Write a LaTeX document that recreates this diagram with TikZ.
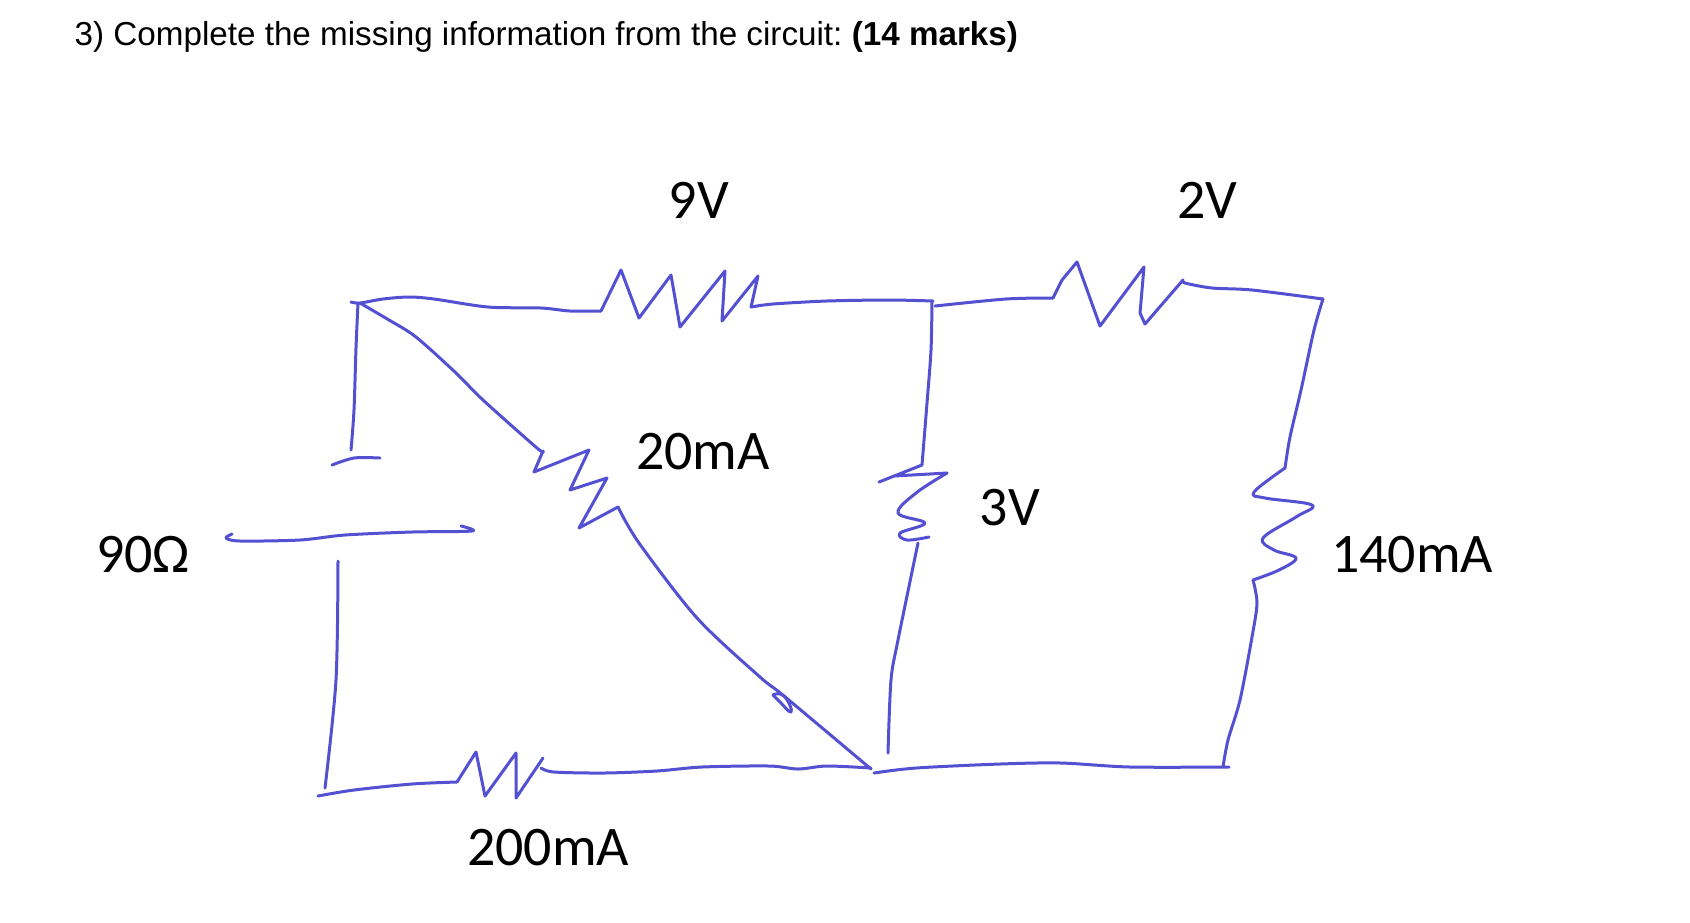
\documentclass[tikz,border=0pt]{standalone}
\usepackage{fontspec}
\setmainfont{Liberation Sans}
\newfontfamily\valuefont{Carlito}
\definecolor{penblue}{HTML}{5450D2}
\tikzset{
	wire/.style={line width=0.3mm, color=penblue, line join=round, line cap=round},
	value/.style={font=\valuefont\fontsize{15.9}{18}\selectfont, text=black, inner sep=0pt}
}

\begin{document}
\begin{tikzpicture}[x=0.1mm, y=-0.1mm]
			%%%%% TEXT %%%%%
			\useasboundingbox (0, 0) rectangle (1690, 922);
			\node[anchor=west, inner sep=0pt, font=\fontsize{9.45}{11}\selectfont] (question) at (74, 37) {3) Complete the missing information from the circuit:\hspace{-0.09em} \textbf{(14 marks)}};
			
			\node[value] (upperdrop) at (699, 200) {9V};
			\node[value] (rightdrop) at (1207, 200) {2V};
			\node[value] (diagcurrent) at (703, 452) {20mA};
			\node[value] (middrop) at (1010, 508) {3V};
			\node[value] (rightcurrent) at (1412, 555) {140mA};
			\node[value] (lowcurrent) at (548, 848) {200mA};
			\node[value] (lowresist) at (143, 555) {90Ω};
			
			%%%%% TOP WIRES %%%%%
			\draw[wire] plot[smooth, tension=0.5] coordinates {(351, 302) (360, 303) (383, 299) (409, 297) (434, 299) (488, 307) (541, 308) (570, 311) (601, 311)};
			\draw[wire] (601, 311) -- (621, 270) -- (639, 318) -- (671, 275) -- (680, 327) -- (725, 271) -- (722, 321) -- (758, 276) -- (751, 307);
			\draw[wire] plot[smooth, tension=0.5] coordinates {(751, 307) (773, 304) (827, 301) (889, 300) (933, 301)};
			\draw[wire] plot[smooth, tension=0.5] coordinates {(935, 306) (1006, 299) (1053, 298)};
			\draw[wire] (1053, 298) -- (1062, 280) -- (1077, 262) -- (1100, 326) -- (1144, 267) -- (1140, 313) -- (1145, 324) -- (1183, 280);
			\draw[wire] plot[smooth, tension=0.5] coordinates {(1183, 280) (1185, 283) (1212, 288) (1252, 290) (1323, 299)};
			
			%%%%% BATTERY %%%%%
			\draw[wire] plot[smooth, tension=0.5] coordinates {(358, 303) (356, 348) (354, 410) (351, 450)};
			\draw[wire] plot[smooth, tension=0.5] coordinates {(332, 465) (354, 458) (380, 458)};
			\draw[wire] plot[smooth, tension=0.5] coordinates {(232, 534) (226, 538) (240, 541) (300, 540) (345, 535) (412, 532) (472, 531) (461, 526)};
			\draw[wire] plot[smooth, tension=0.5] coordinates {(338, 561) (336, 680) (325, 788)};
			
			%%%%% DIAGONAL %%%%%
			\draw[wire] plot[smooth, tension=0.5] coordinates {(360, 303) (389, 320) (416, 337) (456, 373) (483, 400) (537, 448) (543, 451)};
			\draw[wire] (543, 451) -- (534, 472) -- (589, 450) -- (570, 490) -- (607, 478) -- (579, 528) -- (618, 507);
			\draw[wire] plot[smooth, tension=0.5] coordinates {(618, 507) (639, 543) (697, 618) (760, 677) (784, 696) (871, 769)};
			\draw[wire] plot[smooth, tension=1] coordinates {(773, 695) (784, 696) (791, 712) (778, 700) (773, 695)};
			
			%%%%% BOTTOM WIRES %%%%%
			\draw[wire] plot[smooth, tension=0.5] coordinates {(318, 796) (354, 790) (412, 784) (457, 782)};
			\draw[wire] (457, 782) -- (476, 752) -- (485, 796) -- (516, 753) -- (516, 798) -- (543, 758);
			\draw[wire] plot[smooth, tension=0.5] coordinates {(541, 768) (554, 772) (604, 773) (657, 771) (702, 767) (769, 766) (798, 769) (827, 766) (871, 768)};
			\draw[wire] plot[smooth, tension=0.5] coordinates {(874, 773) (916, 768) (1000, 764) (1061, 763) (1130, 767) (1229, 767)};
			
			%%%%% MIDDLE BRANCH %%%%%
			\draw[wire] plot[smooth, tension=0.5] coordinates {(932, 301) (931, 350) (927, 403) (922, 465)};
			\draw[wire] (922, 465) -- (879, 482) -- (894, 476) -- (947, 473);
			\draw[wire] plot[smooth, tension=0.6] coordinates {(947, 473) (916, 493) (898, 513) (925, 523) (900, 533) (907, 540) (929, 537)};
			\draw[wire] plot[smooth, tension=0.5] coordinates {(918, 543) (898, 640) (891, 680) (888, 753)};
			
			%%%%% RIGHT BRANCH %%%%%
			\draw[wire] plot[smooth, tension=0.5] coordinates {(1323, 299) (1314, 330) (1301, 390) (1290, 437) (1285, 468)};
			\draw[wire] plot[smooth, tension=0.6] coordinates {(1285, 468) (1254, 492) (1265, 498) (1312, 505) (1296, 517) (1263, 538) (1274, 550) (1296, 558) (1279, 570) (1253, 580)};
			\draw[wire] plot[smooth, tension=0.5] coordinates {(1253, 580) (1257, 603) (1252, 637) (1240, 700) (1228, 740) (1223, 767)};
			
			%%%%% END %%%%%
\end{tikzpicture}
\end{document}
